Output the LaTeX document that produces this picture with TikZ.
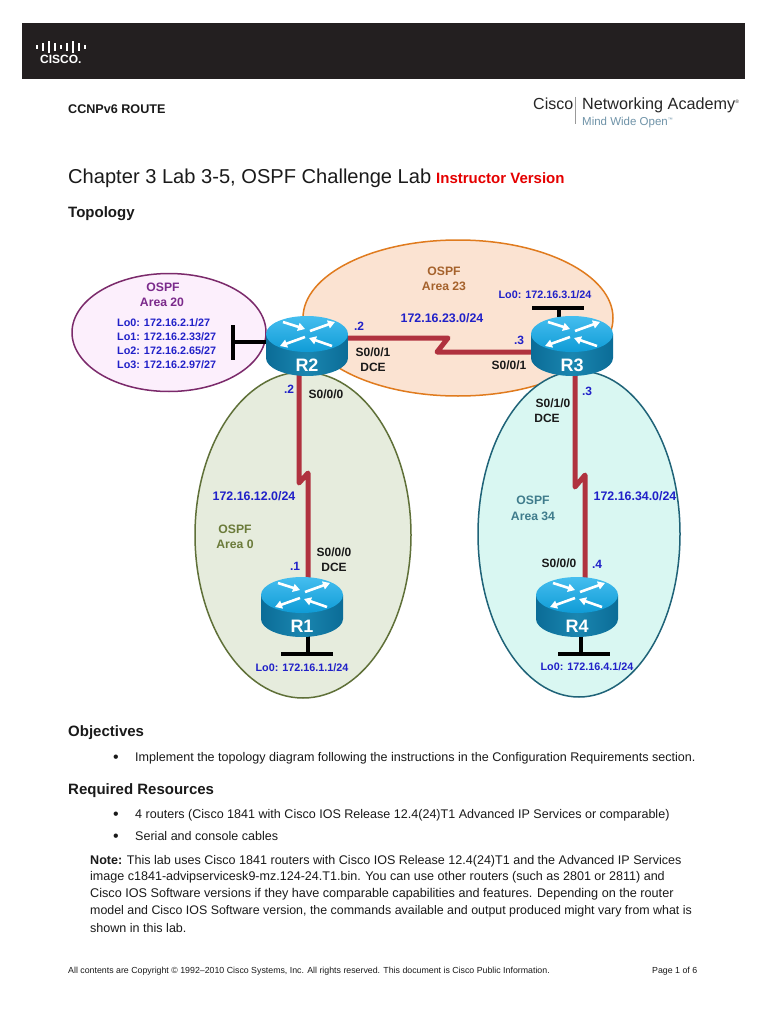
\documentclass[tikz,border=0pt]{standalone}
\usepackage{fontspec}
\setmainfont{Liberation Sans}
\usetikzlibrary{shapes.geometric,arrows.meta}
\definecolor{linkred}{HTML}{B0323F}
\definecolor{lblblue}{HTML}{2020C8}
\definecolor{lblblack}{HTML}{1A1A1A}
\definecolor{routerside}{HTML}{0B6C97}
\definecolor{routermid}{HTML}{1A86B0}
\definecolor{routertop}{HTML}{0F9BD6}
\definecolor{routerlight}{HTML}{45BEEF}
\definecolor{bannerc}{HTML}{231F20}
\definecolor{a20line}{HTML}{7B2A6B}
\definecolor{a20fill}{HTML}{FCEFFC}
\definecolor{a20txt}{HTML}{7B2A8B}
\definecolor{a23line}{HTML}{E07B1E}
\definecolor{a23fill}{HTML}{FBE3D2}
\definecolor{a23txt}{HTML}{A5622C}
\definecolor{a0line}{HTML}{5F7038}
\definecolor{a0fill}{HTML}{E6ECDD}
\definecolor{a0txt}{HTML}{6B7B3A}
\definecolor{a34line}{HTML}{1F6378}
\definecolor{a34fill}{HTML}{D9F7F2}
\definecolor{a34txt}{HTML}{3F7C8C}
\definecolor{mindc}{HTML}{6F93A8}
\tikzset{
  area/.style={ellipse,draw,line width=1.5pt,inner sep=0pt,outer sep=0pt},
  link/.style={draw=linkred,line width=5pt,line join=round},
  stub/.style={draw=black,line width=3.2pt},
  txt/.style={anchor=base west,inner sep=0pt,text=lblblack,font=\fontsize{12.55}{14}\selectfont},
  bul/.style={anchor=base west,inner sep=0pt,text=lblblack,font=\fontsize{16}{16}\selectfont},
  head/.style={anchor=base west,inner sep=0pt,text=lblblack,font=\fontsize{15}{16}\selectfont\bfseries},
  ip/.style={inner sep=0pt,text=lblblue,font=\fontsize{10.8}{12}\selectfont\bfseries},
  netip/.style={ip,font=\fontsize{12.4}{14}\selectfont\bfseries},
  hostip/.style={ip,font=\fontsize{12}{14}\selectfont\bfseries},
  iface/.style={inner sep=0pt,text=lblblack,font=\fontsize{12}{14}\selectfont\bfseries},
  arealbl/.style={inner sep=0pt,font=\fontsize{12.2}{14}\selectfont\bfseries},
  routerbox/.style={rectangle,inner sep=0pt,outer sep=0pt,minimum width=82pt,minimum height=60pt},
  routerlbl/.style={inner sep=0pt,text=white,font=\fontsize{18}{20}\selectfont\bfseries},
  rarrow/.style={draw=white,line width=2.6pt,-{Triangle[length=7pt,width=8pt]}},
  foot/.style={anchor=base west,inner sep=0pt,text=lblblack,font=\fontsize{8.8}{10}\selectfont}
}
\newcommand{\routerat}[4]{%
  \node[routerbox] (#1) at (#2,#3) {};
  \begin{scope}[shift={(#1.center)}]
    \shade[left color=routerside,right color=routerside,middle color=routermid]
      (-41,-12) -- (-41,12) .. controls (-41,22) and (-22,30) .. (0,30)
      .. controls (22,30) and (41,22) .. (41,12) -- (41,-12) -- cycle;
    \shade[top color=routerlight,bottom color=routertop] (0,-12) ellipse [x radius=41pt,y radius=18pt];
    \draw[rarrow] (-24,-24) -- (-2,-17);
    \draw[rarrow] (3,-15) -- (28,-24);
    \draw[rarrow] (-2,-9) -- (-27,0);
    \draw[rarrow] (25,0) -- (2,-8);
    \node[routerlbl] (#1lbl) at (0,19) {#4};
  \end{scope}
}
\pgfdeclarelayer{under}
\pgfsetlayers{under,main}
\begin{document}
\begin{tikzpicture}[x=1pt,y=-1pt]
\useasboundingbox (0,0) rectangle (768,1024);
\begin{pgfonlayer}{under}
\fill[white] (0,0) rectangle (768,1024);
\node[area,draw=a20line,fill=a20fill,minimum width=194pt,minimum height=118pt] (A20) at (169,332.5) {};
\node[area,draw=a23line,fill=a23fill,minimum width=310pt,minimum height=156pt] (A23) at (458,318) {};
\node[area,draw=a0line,fill=a0fill,minimum width=216pt,minimum height=326pt] (A0) at (303,535) {};
\node[area,draw=a34line,fill=a34fill,minimum width=202pt,minimum height=326pt] (A34) at (579,534) {};
\end{pgfonlayer}
% banner
\node[rectangle,fill=bannerc,minimum width=723pt,minimum height=56pt,inner sep=0pt,anchor=north west] (banner) at (22,23) {};
\foreach \x/\h in {37/2,43/4,49/6,55/4,61/2,67/4,73/6,79/4,85/2}
  \fill[white] (\x-1,47-\h) rectangle (\x+1,47+\h);
\node[inner sep=0pt,anchor=base west,text=white,font=\fontsize{12}{12}\selectfont\bfseries] (ciscoword) at (40,64) {CISCO.};
% header
\node[txt,font=\fontsize{12.6}{14}\selectfont\bfseries] (course) at (68,114) {CCNPv6 ROUTE};
\node[inner sep=0pt,anchor=base west,text=black!85,font=\fontsize{16}{16}\selectfont] (cna1) at (533,110) {Cisco};
\draw[black!40,line width=0.6pt] (575,97) -- (575,124);
\node[inner sep=0pt,anchor=base west,text=black!85,font=\fontsize{16.2}{16}\selectfont] (cna2) at (582,110) {Networking Academy\textsuperscript{\tiny ®}};
\node[inner sep=0pt,anchor=base west,text=mindc,font=\fontsize{11.5}{12}\selectfont] (cna3) at (582,126) {Mind Wide Open\textsuperscript{\tiny ™}};
\node[inner sep=0pt,anchor=base west,text=lblblack,font=\fontsize{20.1}{22}\selectfont] (title) at (68,184) {Chapter 3 Lab 3-5, OSPF Challenge Lab};
\node[inner sep=0pt,anchor=base west,text=red!90!black,font=\fontsize{15}{16}\selectfont\bfseries] (instr) at (436,184) {Instructor Version};
\node[head] (topo) at (68,218) {Topology};
% routers
\routerat{R2}{307}{346}{R2}
\routerat{R3}{572}{346}{R3}
\routerat{R1}{302}{607}{R1}
\routerat{R4}{577}{607}{R4}
% connectors
\coordinate (k1) at (448,338);
\coordinate (k2) at (437,352);
\coordinate (k3) at (299,483);
\coordinate (k4) at (308,473);
\coordinate (k5) at (575,487);
\coordinate (k6) at (585,475);
\coordinate (L2) at (233,342);
\coordinate (L2a) at (233,325);
\coordinate (L2b) at (233,360);
\coordinate (L3) at (559,308);
\coordinate (L3a) at (532,308);
\coordinate (L3b) at (584,308);
\coordinate (L1) at (308,654);
\coordinate (L1a) at (281,654);
\coordinate (L1b) at (333,654);
\coordinate (L4) at (581,654);
\coordinate (L4a) at (558,654);
\coordinate (L4b) at (610,654);
\begin{pgfonlayer}{under}
\draw[link] (R2.center |- k1) -- (k1) -- (k2) -- (R3.center |- k2);
\draw[link] (k3 |- R2.center) -- (k3) -- (k4) -- (k4 |- R1.center);
\draw[link] (k5 |- R3.center) -- (k5) -- (k6) -- (k6 |- R4.center);
\draw[stub] (R2.center |- L2) -- (L2);
\draw[stub] (L2a) -- (L2b);
\draw[stub] (L3 |- R3.center) -- (L3);
\draw[stub] (L3a) -- (L3b);
\draw[stub] (L1 |- R1.center) -- (L1);
\draw[stub] (L1a) -- (L1b);
\draw[stub] (L4 |- R4.center) -- (L4);
\draw[stub] (L4a) -- (L4b);
\end{pgfonlayer}
% area labels
\node[arealbl,text=a20txt] (t20a) at (163,287) {OSPF};
\node[arealbl,text=a20txt] (t20b) at (162,302) {Area 20};
\node[arealbl,text=a23txt] (t23a) at (444,271) {OSPF};
\node[arealbl,text=a23txt] (t23b) at (444,286) {Area 23};
\node[arealbl,text=a0txt] (t0a) at (235,529) {OSPF};
\node[arealbl,text=a0txt] (t0b) at (235,544) {Area 0};
\node[arealbl,text=a34txt] (t34a) at (533,500) {OSPF};
\node[arealbl,text=a34txt] (t34b) at (533,516) {Area 34};
% loopbacks
\node[ip,anchor=west] (lo0) at (117,323) {Lo0: 172.16.2.1/27};
\node[ip,anchor=west] (lo1) at (117,337) {Lo1: 172.16.2.33/27};
\node[ip,anchor=west] (lo2) at (117,351) {Lo2: 172.16.2.65/27};
\node[ip,anchor=west] (lo3) at (117,365) {Lo3: 172.16.2.97/27};
\node[ip] (lo3a) at (545,295) {Lo0: 172.16.3.1/24};
\node[ip] (lo1a) at (302,668) {Lo0: 172.16.1.1/24};
\node[ip] (lo4a) at (587,667) {Lo0: 172.16.4.1/24};
% networks
\node[netip] (n23) at (442,318) {172.16.23.0/24};
\node[netip] (n12) at (254,496) {172.16.12.0/24};
\node[netip] (n34) at (635,496) {172.16.34.0/24};
% host addresses
\node[hostip] (h22) at (359,326) {.2};
\node[hostip] (h33) at (519,340) {.3};
\node[hostip] (h2b) at (289,389) {.2};
\node[hostip] (h3b) at (587,391) {.3};
\node[hostip] (h1) at (295,566) {.1};
\node[hostip] (h4) at (597,564) {.4};
% interfaces
\node[iface] (i1) at (373,352) {S0/0/1};
\node[iface] (i1d) at (373,367) {DCE};
\node[iface] (i2) at (509,365) {S0/0/1};
\node[iface] (i3) at (326,394) {S0/0/0};
\node[iface] (i4) at (553,403) {S0/1/0};
\node[iface] (i4d) at (547,418) {DCE};
\node[iface] (i5) at (334,552) {S0/0/0};
\node[iface] (i5d) at (334,567) {DCE};
\node[iface] (i6) at (559,563) {S0/0/0};
% body
\node[head] (obj) at (68,736) {Objectives};
\node[bul] (b1) at (113,762) {•};
\node[txt] (ob1) at (135,761) {Implement the topology diagram following the instructions in the Configuration Requirements section.};
\node[head] (req) at (68,794) {Required Resources};
\node[bul] (b2) at (113,819) {•};
\node[txt] (rr1) at (135,818) {4 routers (Cisco 1841 with Cisco IOS Release 12.4(24)T1 Advanced IP Services or comparable)};
\node[bul] (b3) at (113,841) {•};
\node[txt] (rr2) at (135,840) {Serial and console cables};
\node[txt] (n1) at (90,864) {\textbf{Note:} This lab uses Cisco 1841 routers with Cisco IOS Release 12.4(24)T1 and the Advanced IP Services};
\node[txt] (n2) at (90,880) {image c1841-advipservicesk9-mz.124-24.T1.bin. You can use other routers (such as 2801 or 2811) and};
\node[txt,font=\fontsize{12.65}{14}\selectfont] (n3) at (90,897) {Cisco IOS Software versions if they have comparable capabilities and features. Depending on the router};
\node[txt,font=\fontsize{12.4}{14}\selectfont] (n4) at (90,914) {model and Cisco IOS Software version, the commands available and output produced might vary from what is};
\node[txt] (n5) at (90,932) {shown in this lab.};
% footer
\node[foot] (f1) at (68,973) {All contents are Copyright © 1992–2010 Cisco Systems, Inc. All rights reserved. This document is Cisco Public Information.};
\node[foot] (f2) at (652,973) {Page 1 of 6};
\end{tikzpicture}
\end{document}
